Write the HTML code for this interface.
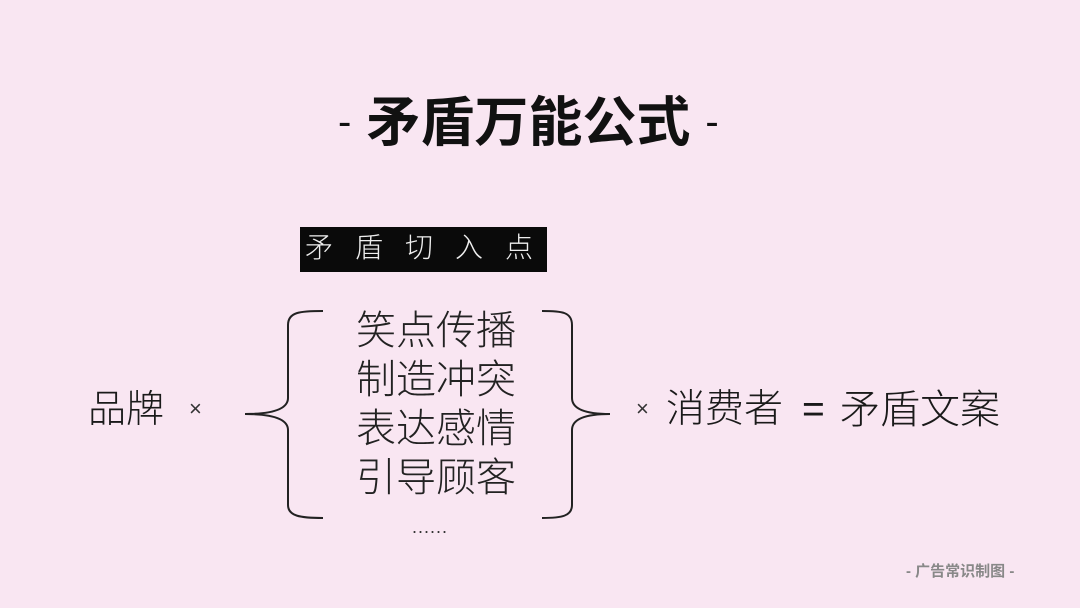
<!DOCTYPE html>
<html><head><meta charset="utf-8"><style>
body{margin:0;width:1080px;height:608px;background:#f9e6f2;position:relative;overflow:hidden;font-family:"Liberation Sans","Noto Sans CJK SC",sans-serif;color:#1a1a1a}
.a{position:absolute;white-space:nowrap;line-height:1}
</style></head><body>
<div class="a" style="left:338px;top:96px;font-size:54px;font-weight:bold;color:#111">
<span style="font-weight:normal;font-size:40px;position:relative;top:-6px">-</span> 矛盾万能公式 <span style="font-weight:normal;font-size:40px;position:relative;top:-6px">-</span></div>
<div class="a" style="left:300px;top:227px;width:247px;height:45px;background:#0a0a0a"></div>
<div class="a" style="left:305px;top:234px;font-size:28px;color:#eee;font-weight:300;letter-spacing:22px">矛盾切入点</div>
<div class="a" style="left:356px;top:307px;font-size:40px;line-height:49px;font-weight:300;color:#222">笑点传播<br>制造冲突<br>表达感情<br>引导顾客</div>
<div class="a" style="left:412px;top:518px;font-size:18px;color:#333;letter-spacing:1px">......</div>
<div class="a" style="left:88px;top:391px;font-size:38px;font-weight:300">品牌</div>
<div class="a" style="left:189px;top:398px;font-size:22px;color:#333">×</div>
<div class="a" style="left:636px;top:398px;font-size:22px;color:#333">×</div>
<div class="a" style="left:666px;top:390px;font-size:39px;font-weight:300">消费者</div>
<div class="a" style="left:802px;top:390px;font-size:39px;font-weight:300">=</div>
<div class="a" style="left:840px;top:390px;font-size:40px;font-weight:300">矛盾文案</div>
<svg class="a" style="left:0;top:0" width="1080" height="608">
<g fill="none" stroke="#222" stroke-width="2">
<path d="M323 311 C300 311 288 312 288 325 L288 398 C288 410 270 414 245 414 C270 414 288 418 288 430 L288 505 C288 516 300 518 323 518"/>
<path d="M542 311 C562 311 572 312 572 325 L572 398 C572 410 588 414 610 414 C588 414 572 418 572 430 L572 505 C572 516 562 518 542 518"/>
</g></svg>
<div class="a" style="left:906px;top:564px;font-size:15px;font-weight:bold;color:#888">- 广告常识制图 -</div>
</body></html>
